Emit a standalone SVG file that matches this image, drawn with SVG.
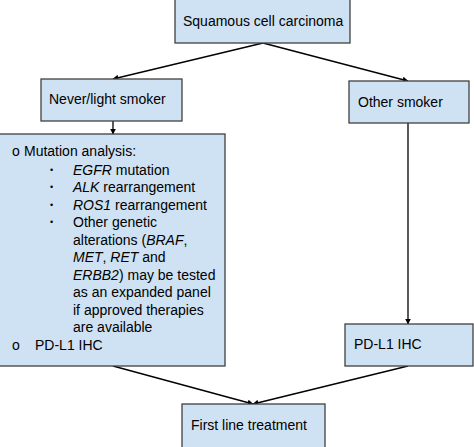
<svg xmlns="http://www.w3.org/2000/svg" width="474" height="447" viewBox="0 0 474 447">
<style>
.box{fill:#cfe2f3;stroke:#404040;stroke-width:1.3}
.t{font-family:"Liberation Sans",Arial,sans-serif;font-size:14px;fill:#000}
.b{font-family:"Liberation Sans",Arial,sans-serif;font-size:9px;fill:#000}
.c{stroke:#000;stroke-width:1.3;fill:none;marker-end:url(#ah)}
</style>
<defs>
<marker id="ah" viewBox="0 0 10 10" refX="9" refY="5" markerWidth="6" markerHeight="6" markerUnits="userSpaceOnUse" orient="auto"><path d="M0,0 L10,5 L0,10 z" fill="#000"/></marker>
</defs>
<rect width="474" height="447" fill="#fff"/>
<g id="connectors">
<line class="c" x1="263" y1="43" x2="113" y2="79"/>
<line class="c" x1="263" y1="43" x2="408" y2="81"/>
<line class="c" x1="113" y1="121" x2="113" y2="134"/>
<line class="c" x1="408" y1="123" x2="408" y2="324"/>
<line class="c" x1="113" y1="366" x2="253" y2="404"/>
<line class="c" x1="408" y1="366" x2="253" y2="404"/>
</g>
<g id="n-squamous">
<rect class="box" x="175" y="-1" width="175" height="44"/>
<text class="t" x="183" y="26">Squamous cell carcinoma</text>
</g>
<g id="n-never">
<rect class="box" x="41" y="79" width="141" height="42"/>
<text class="t" x="49" y="104">Never/light smoker</text>
</g>
<g id="n-other">
<rect class="box" x="349" y="81" width="120" height="42"/>
<text class="t" x="358" y="107">Other smoker</text>
</g>
<g id="n-mutation">
<rect class="box" x="-1" y="134" width="226" height="232"/>
<text class="t" x="12" y="156">o</text>
<text class="t" x="24" y="156">Mutation analysis:</text>
<text class="b" x="50" y="173">•</text>
<text class="t" x="73" y="175"><tspan font-style="italic">EGFR</tspan> mutation</text>
<text class="b" x="50" y="190">•</text>
<text class="t" x="73" y="192"><tspan font-style="italic">ALK</tspan> rearrangement</text>
<text class="b" x="50" y="208">•</text>
<text class="t" x="73" y="210"><tspan font-style="italic">ROS1</tspan> rearrangement</text>
<text class="b" x="50" y="225">•</text>
<text class="t" x="73" y="227">Other genetic</text>
<text class="t" x="73" y="245">alterations (<tspan font-style="italic">BRAF</tspan>,</text>
<text class="t" x="73" y="262"><tspan font-style="italic">MET</tspan>, <tspan font-style="italic">RET</tspan> and</text>
<text class="t" x="73" y="280"><tspan font-style="italic">ERBB2</tspan>) may be tested</text>
<text class="t" x="73" y="297">as an expanded panel</text>
<text class="t" x="73" y="315">if approved therapies</text>
<text class="t" x="73" y="332">are available</text>
<text class="t" x="12" y="350">o</text>
<text class="t" x="35" y="350">PD-L1 IHC</text>
</g>
<g id="n-pdl1">
<rect class="box" x="345" y="324" width="128" height="42"/>
<text class="t" x="354" y="349">PD-L1 IHC</text>
</g>
<g id="n-first">
<rect class="box" x="182" y="404" width="143" height="44"/>
<text class="t" x="191" y="430">First line treatment</text>
</g>
</svg>
